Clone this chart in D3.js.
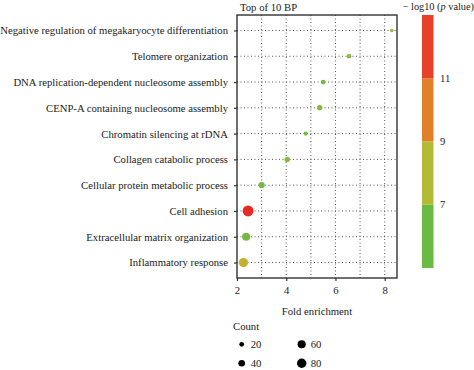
<!DOCTYPE html>
<html><head><meta charset="utf-8">
<script src="https://cdn.jsdelivr.net/npm/d3@7"></script>
<style>
body{margin:0;background:#fff;}
svg text{font-family:"Liberation Serif","DejaVu Serif",serif;}
</style></head>
<body><svg id="c" width="474" height="370"></svg>
<script>
const categories = [
  "Negative regulation of megakaryocyte differentiation",
  "Telomere organization",
  "DNA replication-dependent nucleosome assembly",
  "CENP-A containing nucleosome assembly",
  "Chromatin silencing at rDNA",
  "Collagen catabolic process",
  "Cellular protein metabolic process",
  "Cell adhesion",
  "Extracellular matrix organization",
  "Inflammatory response"
];
const foldEnrichment = [8.29, 6.55, 5.5, 5.36, 4.79, 4.04, 3.0, 2.45, 2.37, 2.26];
const negLogP = [7.0, 6.8, 6.2, 6.7, 6.2, 6.7, 6.2, 12.6, 6.3, 8.3];
const counts = [12, 20, 20, 27, 15, 27, 34, 108, 60, 78];
const xTicks = [2, 4, 6, 8];
const xGrid = [3, 4, 5, 6, 7, 8];
const colorBins = [[5, 7], [7, 9], [9, 11], [11, 13]];
const binColors = ["#69bb45", "#b3bb35", "#e0812a", "#e8412a"];
const colorTicks = [7, 9, 11];
const legendCounts = [20, 40, 60, 80];

const FS = 10.7;
const svg = d3.select("#c");
const L = 237, R = 397, T = 15, B = 278;
const x = d3.scaleLinear().domain([2, 8.5]).range([L, R]);
const y = d3.scalePoint().domain(categories).range([T, B]).padding(0.6);
const r = d3.scaleSqrt().domain([0, 80]).range([0, 4.7]);
const col = d3.scaleLinear().domain([6, 8, 10, 12]).range(["#69bb45", "#c2b62e", "#e0812a", "#e82a24"]).clamp(true);

// gridlines
const g = svg.append("g");
g.selectAll("line.h").data(categories).join("line")
  .attr("x1", L).attr("x2", R).attr("y1", d => y(d)).attr("y2", d => y(d))
  .attr("stroke", "#555").attr("stroke-width", 1).attr("stroke-dasharray", "1,2.5");
g.selectAll("line.v").data(xGrid).join("line")
  .attr("x1", d => x(d)).attr("x2", d => x(d)).attr("y1", T).attr("y2", B)
  .attr("stroke", "#555").attr("stroke-width", 1).attr("stroke-dasharray", "1,2.5");

// points
const data = categories.map((c, i) => ({c, fe: foldEnrichment[i], p: negLogP[i], n: counts[i]}));
svg.selectAll("circle.pt").data(data).join("circle")
  .attr("cx", d => x(d.fe)).attr("cy", d => y(d.c)).attr("r", d => r(d.n))
  .attr("fill", d => col(d.p));

// frame
svg.append("rect").attr("x", L).attr("y", T).attr("width", R - L).attr("height", B - T)
  .attr("fill", "none").attr("stroke", "#333").attr("stroke-width", 1.4);

// axes
const ax = svg.append("g").attr("transform", `translate(0,${B})`)
  .call(d3.axisBottom(x).tickValues(xTicks).tickSize(3).tickPadding(5).tickFormat(d3.format("d")));
const ay = svg.append("g").attr("transform", `translate(${L},0)`)
  .call(d3.axisLeft(y).tickSize(3).tickPadding(6));
[ax, ay].forEach(a => {
  a.attr("font-family", null);
  a.select(".domain").remove();
  a.selectAll("line").attr("stroke", "#333").attr("stroke-width", 1.2);
  a.selectAll("text").attr("font-size", FS).attr("fill", "#222");
});

svg.append("text").attr("x", 240).attr("y", 11).attr("font-size", FS).attr("fill", "#222").text("Top of 10 BP");
svg.append("text").attr("x", (L + R) / 2).attr("y", 315).attr("text-anchor", "middle")
  .attr("font-size", FS).attr("fill", "#222").text("Fold enrichment");

// color legend
const cy = d3.scaleLinear().domain([5, 13]).range([268, 15]);
svg.selectAll("rect.cb").data(colorBins).join("rect")
  .attr("x", 422).attr("width", 11.5)
  .attr("y", d => cy(d[1])).attr("height", d => cy(d[0]) - cy(d[1]))
  .attr("fill", (d, i) => binColors[i]);
svg.selectAll("text.ct").data(colorTicks).join("text")
  .attr("x", 440).attr("y", d => cy(d) + 3.5).attr("font-size", FS).attr("fill", "#222").text(d => d);
const lt = svg.append("text").attr("x", 474).attr("y", 10).attr("text-anchor", "end").attr("font-size", 10.3).attr("fill", "#222");
lt.append("tspan").text("\u2212 log10 (");
lt.append("tspan").attr("font-style", "italic").text("p");
lt.append("tspan").text(" value)");

// size legend
svg.append("text").attr("x", 233).attr("y", 330).attr("font-size", FS).attr("fill", "#222").text("Count");
const lg = svg.selectAll("g.sl").data(legendCounts).join("g")
  .attr("transform", (d, i) => `translate(${i < 2 ? 241.7 : 301.7},${i % 2 === 0 ? 344.3 : 363.3})`);
lg.append("circle").attr("r", d => r(d)).attr("fill", "#000");
lg.append("text").attr("x", 9).attr("y", 3.5).attr("font-size", FS).attr("fill", "#222").text(d => d);
</script></body></html>
